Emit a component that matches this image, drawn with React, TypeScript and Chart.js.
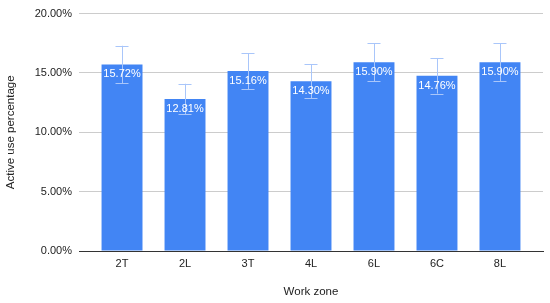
import React, { useEffect, useRef } from "react";
import { Chart, registerables } from "chart.js";

Chart.register(...registerables);

const categories = ["2T", "2L", "3T", "4L", "6L", "6C", "8L"];
const values = [15.72, 12.81, 15.16, 14.3, 15.9, 14.76, 15.9];
const errors = [1.57, 1.28, 1.52, 1.45, 1.6, 1.5, 1.6];
const yTicks = [0, 5, 10, 15, 20];

const FONT = "Arial, 'Liberation Sans', sans-serif";

const overlayPlugin = {
  id: "overlay",
  afterDatasetsDraw(chart: any) {
    const ctx = chart.ctx;
    const meta = chart.getDatasetMeta(0);
    const yScale = chart.scales.y;
    ctx.save();
    meta.data.forEach((bar: any, i: number) => {
      const x = bar.x;
      const top = yScale.getPixelForValue(values[i] + errors[i]);
      const bot = yScale.getPixelForValue(values[i] - errors[i]);
      ctx.strokeStyle = "#a9c6fa";
      ctx.lineWidth = 1;
      ctx.beginPath();
      ctx.moveTo(Math.round(x) + 0.5, top);
      ctx.lineTo(Math.round(x) + 0.5, bot);
      ctx.moveTo(x - 6.5, Math.round(top) + 0.5);
      ctx.lineTo(x + 6.5, Math.round(top) + 0.5);
      ctx.moveTo(x - 6.5, Math.round(bot) + 0.5);
      ctx.lineTo(x + 6.5, Math.round(bot) + 0.5);
      ctx.stroke();
    });
    ctx.fillStyle = "#ffffff";
    ctx.font = `11px ${FONT}`;
    ctx.textAlign = "center";
    ctx.textBaseline = "middle";
    meta.data.forEach((bar: any, i: number) => {
      ctx.fillText(values[i].toFixed(2) + "%", bar.x, bar.y + 10);
    });
    ctx.restore();
  },
};

export default function App() {
  const ref = useRef<HTMLCanvasElement | null>(null);
  useEffect(() => {
    document.body.style.margin = "0";
    const chart = new Chart(ref.current as HTMLCanvasElement, {
      type: "bar",
      data: {
        datasets: [
          {
            data: values.map((v, i) => ({ x: i, y: v })),
            backgroundColor: "#4285f4",
            categoryPercentage: 1,
            barPercentage: 0.65,
          },
        ],
      },
      options: {
        responsive: false,
        animation: false,
        layout: { padding: { top: 9, right: 7, left: 0, bottom: 0 } },
        plugins: { legend: { display: false }, tooltip: { enabled: false } },
        scales: {
          x: {
            type: "linear",
            offset: false,
            min: -0.683,
            max: categories.length - 1 + 0.683,
            afterBuildTicks(scale: any) {
              scale.ticks = categories.map((_, i) => ({ value: i }));
            },
            grid: { display: false, drawTicks: false, offset: false },
            border: { display: true, color: "#333333", width: 1 },
            ticks: {
              padding: 6,
              color: "#222",
              font: { family: FONT, size: 11 },
              autoSkip: false,
              maxRotation: 0,
              callback: (v: any) => categories[Math.round(Number(v))] ?? "",
            },
            title: {
              display: true,
              text: "Work zone",
              color: "#222",
              font: { family: FONT, size: 11.5 },
              padding: { top: 5, bottom: 4 },
            },
            afterFit(scale: any) {
              scale.height = 52;
            },
          },
          y: {
            min: 0,
            max: 20,
            afterBuildTicks(scale: any) {
              scale.ticks = yTicks.map((v) => ({ value: v }));
            },
            grid: { color: "#cccccc", drawTicks: false },
            border: { display: false },
            ticks: {
              padding: 7,
              color: "#222",
              font: { family: FONT, size: 11 },
              callback: (v: any) => Number(v).toFixed(2) + "%",
            },
            title: {
              display: true,
              text: "Active use percentage",
              color: "#222",
              font: { family: FONT, size: 11.5 },
              padding: { top: 4, bottom: 4 },
            },
            afterFit(scale: any) {
              scale.width = 79;
            },
          },
        },
      },
      plugins: [overlayPlugin],
    });
    return () => chart.destroy();
  }, []);
  return <canvas ref={ref} width={550} height={303} style={{ display: "block" }} />;
}
